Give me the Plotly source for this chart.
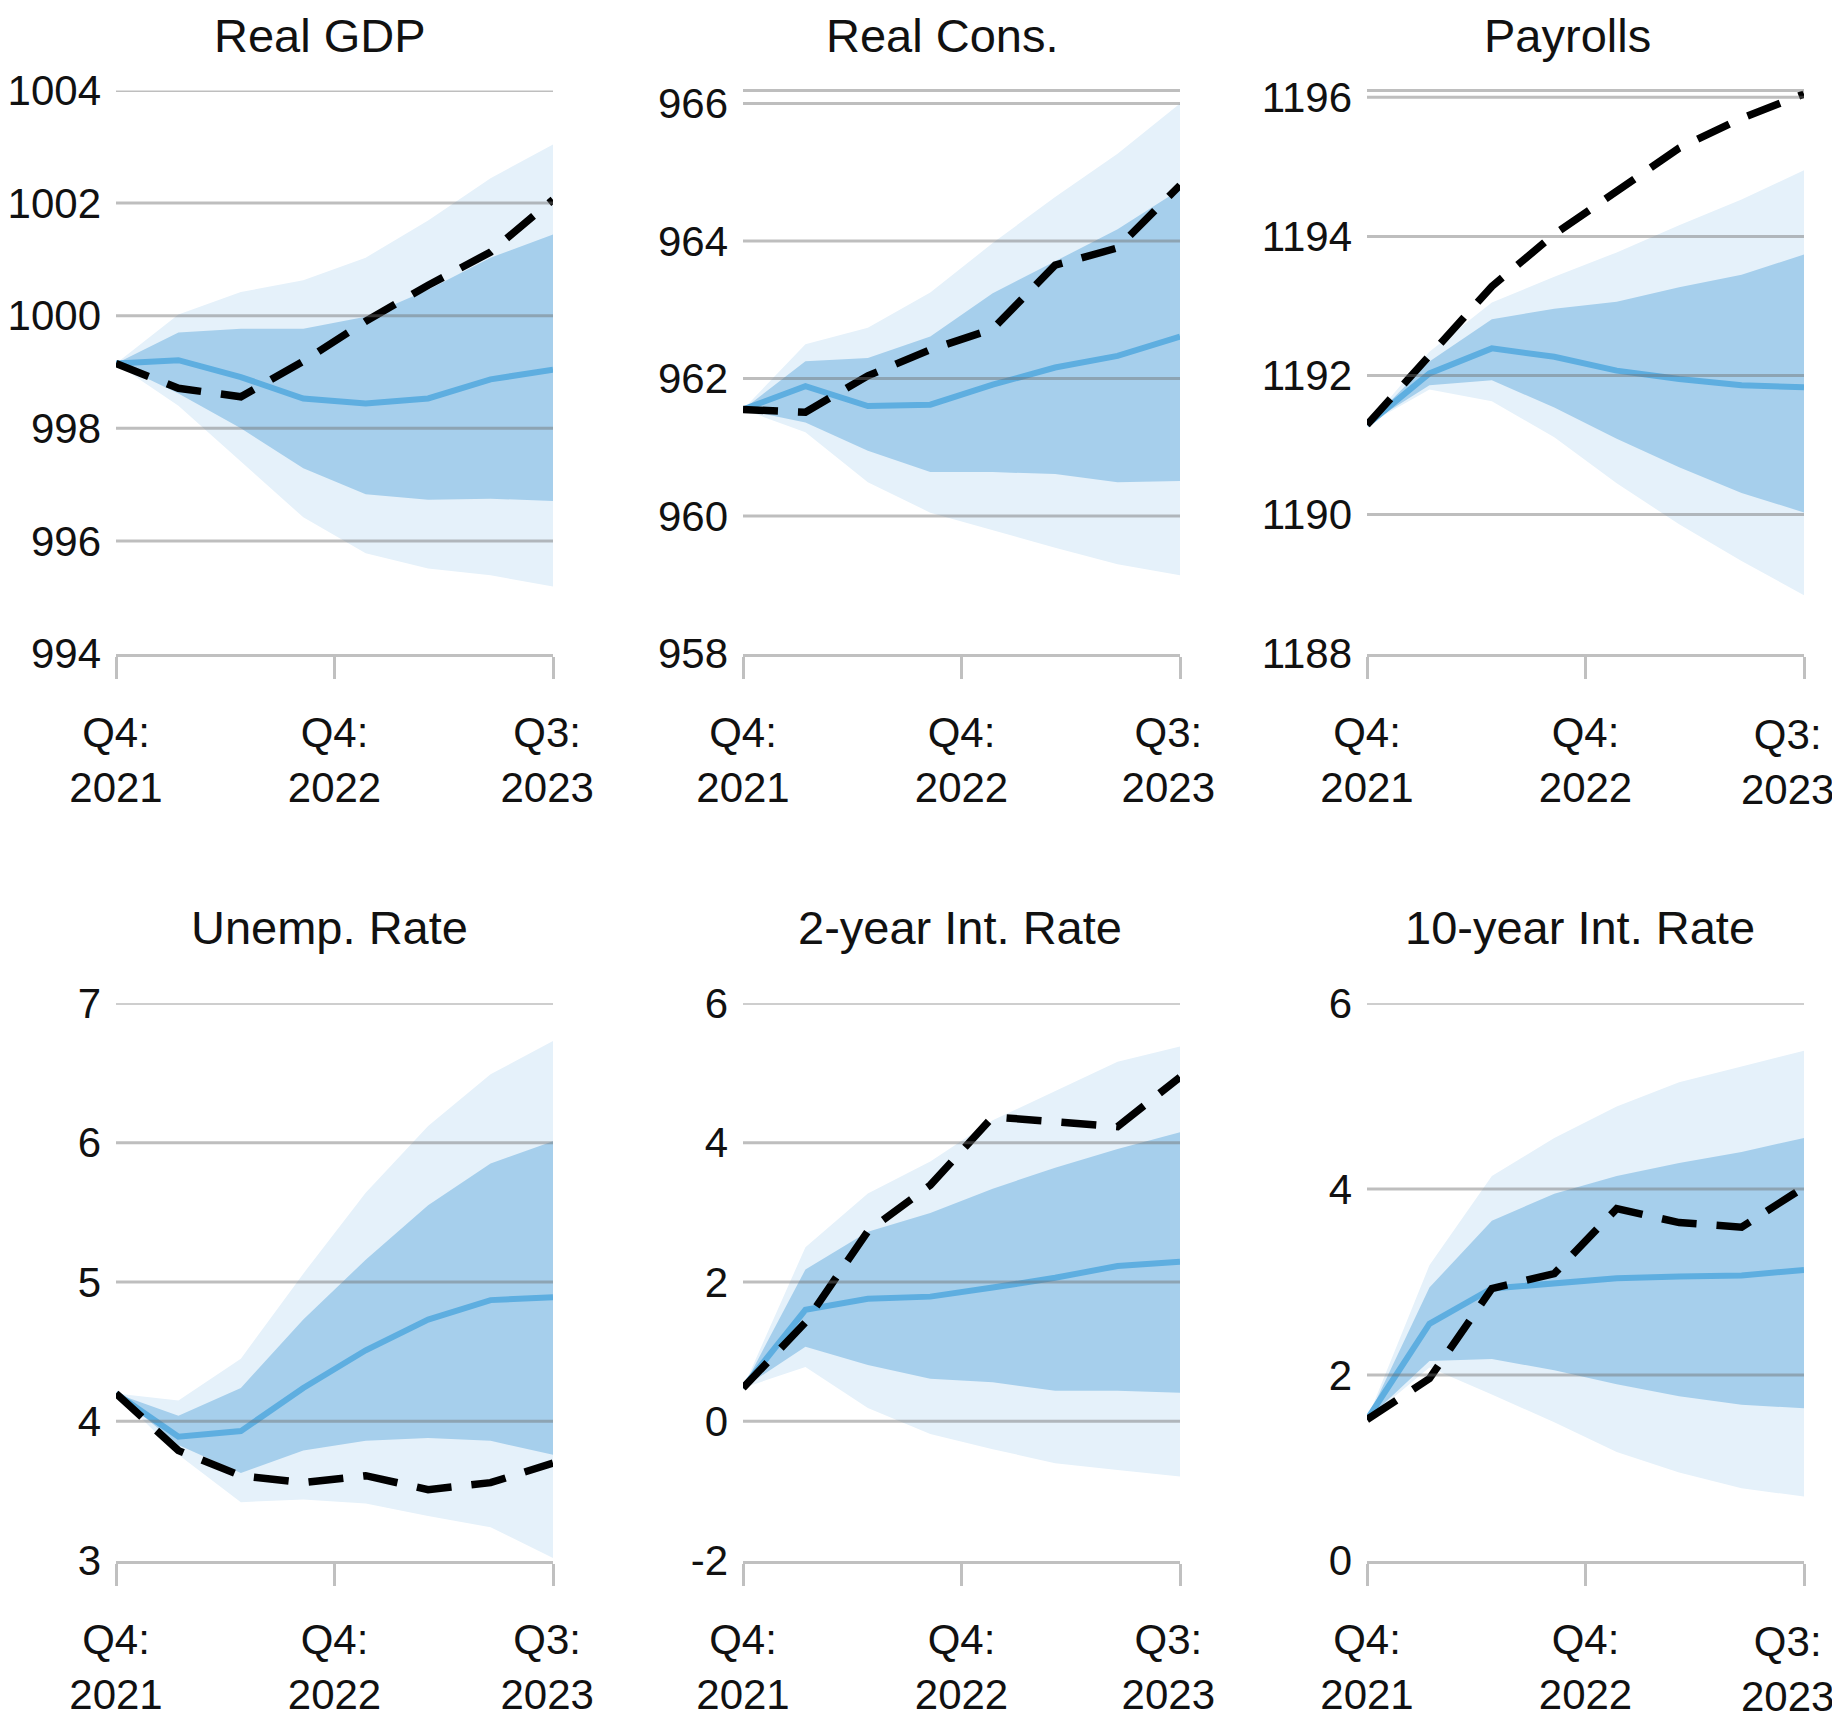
import plotly.graph_objects as go

# ---------------- data ----------------
quarters = ["Q4:2021", "Q1:2022", "Q2:2022", "Q3:2022", "Q4:2022", "Q1:2023", "Q2:2023", "Q3:2023"]
x_tick_pos = [0, 3.5, 7]
x_tick_labels = ["Q4:<br>2021", "Q4:<br>2022", "Q3:<br>2023"]

titles = ["Real GDP", "Real Cons.", "Payrolls", "Unemp. Rate", "2-year Int. Rate", "10-year Int. Rate"]

# Real GDP
gdp_median = [999.15, 999.21, 998.91, 998.53, 998.44, 998.53, 998.87, 999.04]
gdp_actual = [999.15, 998.71, 998.56, 999.19, 999.90, 1000.54, 1001.13, 1002.06]
gdp_in_hi = [999.15, 999.70, 999.77, 999.77, 999.98, 1000.46, 1001.03, 1001.44]
gdp_in_lo = [999.15, 998.62, 998.00, 997.29, 996.83, 996.73, 996.75, 996.71]
gdp_out_hi = [999.15, 1000.02, 1000.42, 1000.63, 1001.03, 1001.69, 1002.44, 1003.04]
gdp_out_lo = [999.15, 998.40, 997.41, 996.42, 995.78, 995.51, 995.39, 995.19]
gdp_ticks = [994, 996, 998, 1000, 1002, 1004]
gdp_range = [994, 1004]

# Real Consumption
cons_median = [961.55, 961.89, 961.60, 961.62, 961.91, 962.16, 962.33, 962.61]
cons_actual = [961.55, 961.51, 962.04, 962.42, 962.72, 963.65, 963.90, 964.81]
cons_in_hi = [961.55, 962.25, 962.30, 962.61, 963.24, 963.70, 964.17, 964.75]
cons_in_lo = [961.55, 961.36, 960.95, 960.64, 960.64, 960.61, 960.49, 960.51]
cons_out_hi = [961.55, 962.50, 962.74, 963.25, 963.97, 964.64, 965.27, 966.00]
cons_out_lo = [961.55, 961.22, 960.49, 960.05, 959.79, 959.54, 959.30, 959.14]
cons_ticks = [958, 960, 962, 964, 966]
cons_range = [958, 966.19]

# Payrolls
pay_median = [1191.29, 1192.03, 1192.39, 1192.27, 1192.07, 1191.95, 1191.86, 1191.83]
pay_actual = [1191.29, 1192.30, 1193.28, 1194.03, 1194.65, 1195.27, 1195.70, 1196.05]
pay_in_hi = [1191.29, 1192.20, 1192.81, 1192.96, 1193.06, 1193.27, 1193.45, 1193.74]
pay_in_lo = [1191.29, 1191.86, 1191.93, 1191.54, 1191.09, 1190.68, 1190.31, 1190.03]
pay_out_hi = [1191.29, 1192.34, 1193.05, 1193.42, 1193.77, 1194.16, 1194.53, 1194.95]
pay_out_lo = [1191.29, 1191.80, 1191.63, 1191.11, 1190.45, 1189.86, 1189.33, 1188.84]
pay_ticks = [1188, 1190, 1192, 1194, 1196]
pay_range = [1188, 1196.10]

# Unemployment rate
ur_median = [4.20, 3.89, 3.93, 4.24, 4.51, 4.73, 4.87, 4.89]
ur_actual = [4.20, 3.79, 3.61, 3.56, 3.61, 3.51, 3.56, 3.70]
ur_in_hi = [4.20, 4.04, 4.24, 4.73, 5.16, 5.55, 5.85, 6.01]
ur_in_lo = [4.20, 3.83, 3.63, 3.79, 3.86, 3.88, 3.86, 3.76]
ur_out_hi = [4.20, 4.15, 4.45, 5.06, 5.64, 6.12, 6.49, 6.73]
ur_out_lo = [4.20, 3.76, 3.42, 3.44, 3.41, 3.32, 3.24, 3.02]
ur_ticks = [3, 4, 5, 6, 7]
ur_range = [3, 7]

# 2-year rate
r2_median = [0.48, 1.60, 1.76, 1.79, 1.92, 2.06, 2.23, 2.29]
r2_actual = [0.48, 1.42, 2.73, 3.39, 4.37, 4.30, 4.23, 4.94]
r2_in_hi = [0.48, 2.18, 2.72, 2.99, 3.34, 3.64, 3.91, 4.15]
r2_in_lo = [0.48, 1.07, 0.81, 0.61, 0.56, 0.44, 0.44, 0.41]
r2_out_hi = [0.48, 2.50, 3.27, 3.73, 4.32, 4.74, 5.16, 5.38]
r2_out_lo = [0.48, 0.78, 0.19, -0.18, -0.40, -0.60, -0.70, -0.79]
r2_ticks = [-2, 0, 2, 4, 6]
r2_range = [-2, 6]

# 10-year rate
r10_median = [1.52, 2.55, 2.93, 2.99, 3.04, 3.06, 3.07, 3.13]
r10_actual = [1.52, 1.96, 2.93, 3.09, 3.79, 3.64, 3.59, 4.02]
r10_in_hi = [1.52, 2.94, 3.66, 3.95, 4.14, 4.28, 4.40, 4.55]
r10_in_lo = [1.52, 2.15, 2.17, 2.05, 1.90, 1.77, 1.68, 1.64]
r10_out_hi = [1.52, 3.18, 4.14, 4.55, 4.89, 5.15, 5.32, 5.49]
r10_out_lo = [1.52, 2.08, 1.79, 1.49, 1.17, 0.95, 0.78, 0.69]
r10_ticks = [0, 2, 4, 6]
r10_range = [0, 6]

panels = [
    (gdp_median, gdp_actual, gdp_in_hi, gdp_in_lo, gdp_out_hi, gdp_out_lo, gdp_ticks, gdp_range),
    (cons_median, cons_actual, cons_in_hi, cons_in_lo, cons_out_hi, cons_out_lo, cons_ticks, cons_range),
    (pay_median, pay_actual, pay_in_hi, pay_in_lo, pay_out_hi, pay_out_lo, pay_ticks, pay_range),
    (ur_median, ur_actual, ur_in_hi, ur_in_lo, ur_out_hi, ur_out_lo, ur_ticks, ur_range),
    (r2_median, r2_actual, r2_in_hi, r2_in_lo, r2_out_hi, r2_out_lo, r2_ticks, r2_range),
    (r10_median, r10_actual, r10_in_hi, r10_in_lo, r10_out_hi, r10_out_lo, r10_ticks, r10_range),
]

# ---------------- layout / style ----------------
W, H = 1840, 1726
FONT = "Liberation Sans, Arial, Helvetica, sans-serif"
TXT = "#111111"
LIGHT = "#e5f1fa"
DARK = "#a6cfec"
MEDIAN = "#5eaee0"
GRID = "rgba(110,110,110,0.45)"
AXIS = "#c0c0c0"
NB = "\u00a0"

col_left = [108, 735, 1359]
col_width = 437
row_top = [82.4, 995.3]
row_bottom = [645.6, 1552.7]
title_x = [312, 934, 1559, 321, 952, 1572]
title_y = [27, 920]
# trailing non-breaking spaces pull the right-most label of a column leftwards
last_label_pad = [1, 2, 0]
# the right-most column's last label is drawn as an annotation so it stays on the page
edge_label_xshift = -17
edge_label_yshift = -56


def tick_texts(col):
    labels = list(x_tick_labels)
    if col == 2:
        labels[-1] = ""
    else:
        pad = NB * last_label_pad[col]
        labels[-1] = "<br>".join(part + pad for part in labels[-1].split("<br>"))
    return labels


fig = go.Figure()
xs = list(range(len(quarters)))
shapes = []
annotations = []

for i, (med, act, ihi, ilo, ohi, olo, ticks, rng) in enumerate(panels):
    n = i + 1
    r, c = divmod(i, 3)
    xa = "x" if n == 1 else f"x{n}"
    ya = "y" if n == 1 else f"y{n}"
    poly_x = xs + xs[::-1]
    fig.add_trace(go.Scatter(x=poly_x, y=ohi + olo[::-1], fill="toself", fillcolor=LIGHT,
                             line=dict(width=0), mode="lines", hoverinfo="skip",
                             showlegend=False, xaxis=xa, yaxis=ya))
    fig.add_trace(go.Scatter(x=poly_x, y=ihi + ilo[::-1], fill="toself", fillcolor=DARK,
                             line=dict(width=0), mode="lines", hoverinfo="skip",
                             showlegend=False, xaxis=xa, yaxis=ya))
    fig.add_trace(go.Scatter(x=xs, y=med, mode="lines", line=dict(color=MEDIAN, width=6),
                             showlegend=False, xaxis=xa, yaxis=ya))
    fig.add_trace(go.Scatter(x=xs, y=act, mode="lines",
                             line=dict(color="black", width=7.5, dash="35px,20px"),
                             showlegend=False, xaxis=xa, yaxis=ya))

    x0 = col_left[c] / W
    x1 = (col_left[c] + col_width) / W
    y0 = 1 - row_bottom[r] / H
    y1 = 1 - row_top[r] / H
    fig.layout[f"xaxis{'' if n == 1 else n}"] = dict(
        domain=[x0, x1], range=[0, len(quarters) - 1], anchor=ya, automargin=False,
        showgrid=False, zeroline=False, showline=True, linecolor=AXIS, linewidth=3,
        ticks="outside", ticklen=22, tickwidth=3, tickcolor=AXIS,
        tickmode="array", tickvals=x_tick_pos, ticktext=tick_texts(c),
        tickfont=dict(family=FONT, size=42, color=TXT), ticklabelstandoff=18,
        ticklabeloverflow="allow", fixedrange=True)
    fig.layout[f"yaxis{'' if n == 1 else n}"] = dict(
        domain=[y0, y1], range=rng, anchor=xa, automargin=False,
        showgrid=False, zeroline=False, showline=False, ticks="",
        tickmode="array", tickvals=ticks, ticktext=[f"{t:g}" for t in ticks],
        tickfont=dict(family=FONT, size=42, color=TXT), ticklabelstandoff=14,
        ticklabeloverflow="allow", fixedrange=True)

    if c == 2:
        annotations.append(dict(text=x_tick_labels[-1], xref=xa, x=x_tick_pos[-1],
                                yref=f"{ya} domain", y=0, xanchor="center", yanchor="top",
                                xshift=edge_label_xshift, yshift=edge_label_yshift,
                                showarrow=False, borderpad=0,
                                font=dict(family=FONT, size=42, color=TXT)))

    for t in ticks[1:]:
        shapes.append(dict(type="line", xref=f"{xa} domain", yref=ya, x0=0, x1=1, y0=t, y1=t,
                           line=dict(color=GRID, width=3), layer="above"))
    if rng[1] > ticks[-1]:
        shapes.append(dict(type="line", xref=f"{xa} domain", yref=f"{ya} domain", x0=0, x1=1,
                           y0=1, y1=1, line=dict(color=GRID, width=3), layer="above"))

    annotations.append(dict(text=titles[i], xref="paper", yref="paper",
                            x=title_x[i] / W, y=1 - title_y[r] / H,
                            xanchor="center", yanchor="middle", showarrow=False,
                            font=dict(family=FONT, size=47, color=TXT)))

fig.update_layout(width=W, height=H, margin=dict(l=0, r=0, t=0, b=0, pad=0),
                  paper_bgcolor="white", plot_bgcolor="white",
                  shapes=shapes, annotations=annotations, showlegend=False)

fig.write_html("out.html")
